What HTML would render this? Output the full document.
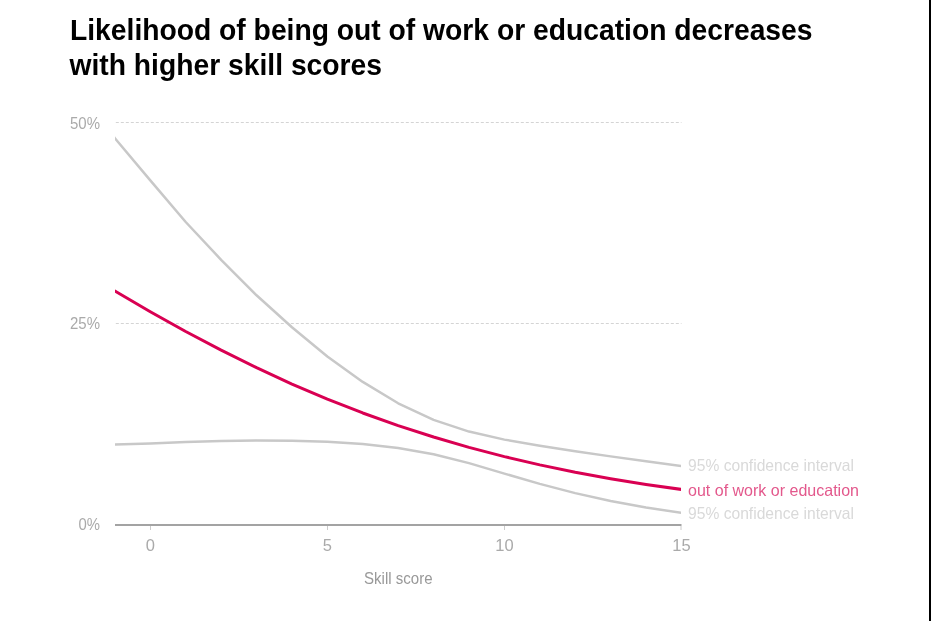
<!DOCTYPE html>
<html><head><meta charset="utf-8">
<style>
html,body{margin:0;padding:0;background:#fff;width:931px;height:621px;overflow:hidden;}
svg{position:absolute;left:0;top:0;will-change:transform;}
text{font-family:"Liberation Sans",sans-serif;}
</style></head>
<body>
<svg width="931" height="621" viewBox="0 0 931 621">
<rect x="929" y="0" width="2" height="621" fill="#000"/>
<text x="70" y="40" font-size="29" font-weight="bold" fill="#000" textLength="742.5" lengthAdjust="spacingAndGlyphs">Likelihood of being out of work or education decreases</text>
<text x="69.5" y="74.5" font-size="29" font-weight="bold" fill="#000" textLength="312.5" lengthAdjust="spacingAndGlyphs">with higher skill scores</text>
<g stroke="#d4d4d4" stroke-width="1" stroke-dasharray="3,2" stroke-dashoffset="-0.8" fill="none">
<line x1="115" y1="122.5" x2="681.5" y2="122.5"/>
<line x1="115" y1="323.5" x2="681.5" y2="323.5"/>
</g>
<g fill="#aaaaaa" font-size="16.5" text-anchor="end">
<text x="100" y="128.5" textLength="30" lengthAdjust="spacingAndGlyphs">50%</text>
<text x="100" y="329" textLength="30" lengthAdjust="spacingAndGlyphs">25%</text>
<text x="100" y="530" textLength="21.5" lengthAdjust="spacingAndGlyphs">0%</text>
</g>
<line x1="115" y1="525" x2="681.5" y2="525" stroke="#a3a3a3" stroke-width="2"/>
<g stroke="#cccccc" stroke-width="1">
<line x1="150.5" y1="526" x2="150.5" y2="530"/>
<line x1="327.5" y1="526" x2="327.5" y2="530"/>
<line x1="504.5" y1="526" x2="504.5" y2="530"/>
<line x1="681" y1="526" x2="681" y2="530"/>
</g>
<g fill="#aaaaaa" font-size="16.5" text-anchor="middle">
<text x="150.3" y="551">0</text>
<text x="327.4" y="551">5</text>
<text x="504.5" y="551">10</text>
<text x="681.5" y="551">15</text>
</g>
<text x="364" y="583.5" fill="#999" font-size="16.5" textLength="68.5" lengthAdjust="spacingAndGlyphs">Skill score</text>
<defs><clipPath id="pc"><rect x="115" y="0" width="566" height="621"/></clipPath></defs>
<g fill="none" stroke-linejoin="round" clip-path="url(#pc)">
<path d="M108.89,131.04 L114.89,138.18 L150.30,180.33 L185.71,222.00 L221.12,259.80 L256.53,295.30 L291.94,327.20 L327.35,356.47 L362.76,381.91 L398.17,403.26 L433.58,419.89 L468.99,431.58 L504.40,439.62 L539.81,445.84 L575.22,451.28 L610.63,456.38 L646.04,461.29 L681.45,466.03 L687.45,466.83" stroke="#c8c8c8" stroke-width="2.5"/>
<path d="M108.89,444.80 L114.89,444.60 L150.30,443.40 L185.71,442.05 L221.12,441.09 L256.53,440.55 L291.94,440.70 L327.35,441.76 L362.76,444.03 L398.17,447.94 L433.58,454.20 L468.99,463.13 L504.40,473.58 L539.81,483.87 L575.22,493.10 L610.63,500.98 L646.04,507.54 L681.45,512.87 L687.45,513.77" stroke="#c8c8c8" stroke-width="2.5"/>
<path d="M108.89,287.57 L114.89,291.07 L150.30,311.73 L185.71,331.46 L221.12,350.15 L256.53,367.69 L291.94,384.02 L327.35,399.12 L362.76,412.97 L398.17,425.60 L433.58,437.04 L468.99,447.36 L504.40,456.60 L539.81,464.86 L575.22,472.19 L610.63,478.68 L646.04,484.41 L681.45,489.45 L687.45,490.30" stroke="#d90052" stroke-width="3"/>
</g>
<g font-size="16.5">
<text x="688" y="471" fill="#d9d9d9" textLength="166" lengthAdjust="spacingAndGlyphs">95% confidence interval</text>
<text x="688" y="495.5" fill="#e3588c" textLength="171" lengthAdjust="spacingAndGlyphs">out of work or education</text>
<text x="688" y="519" fill="#d9d9d9" textLength="166" lengthAdjust="spacingAndGlyphs">95% confidence interval</text>
</g>
</svg>
</body></html>
